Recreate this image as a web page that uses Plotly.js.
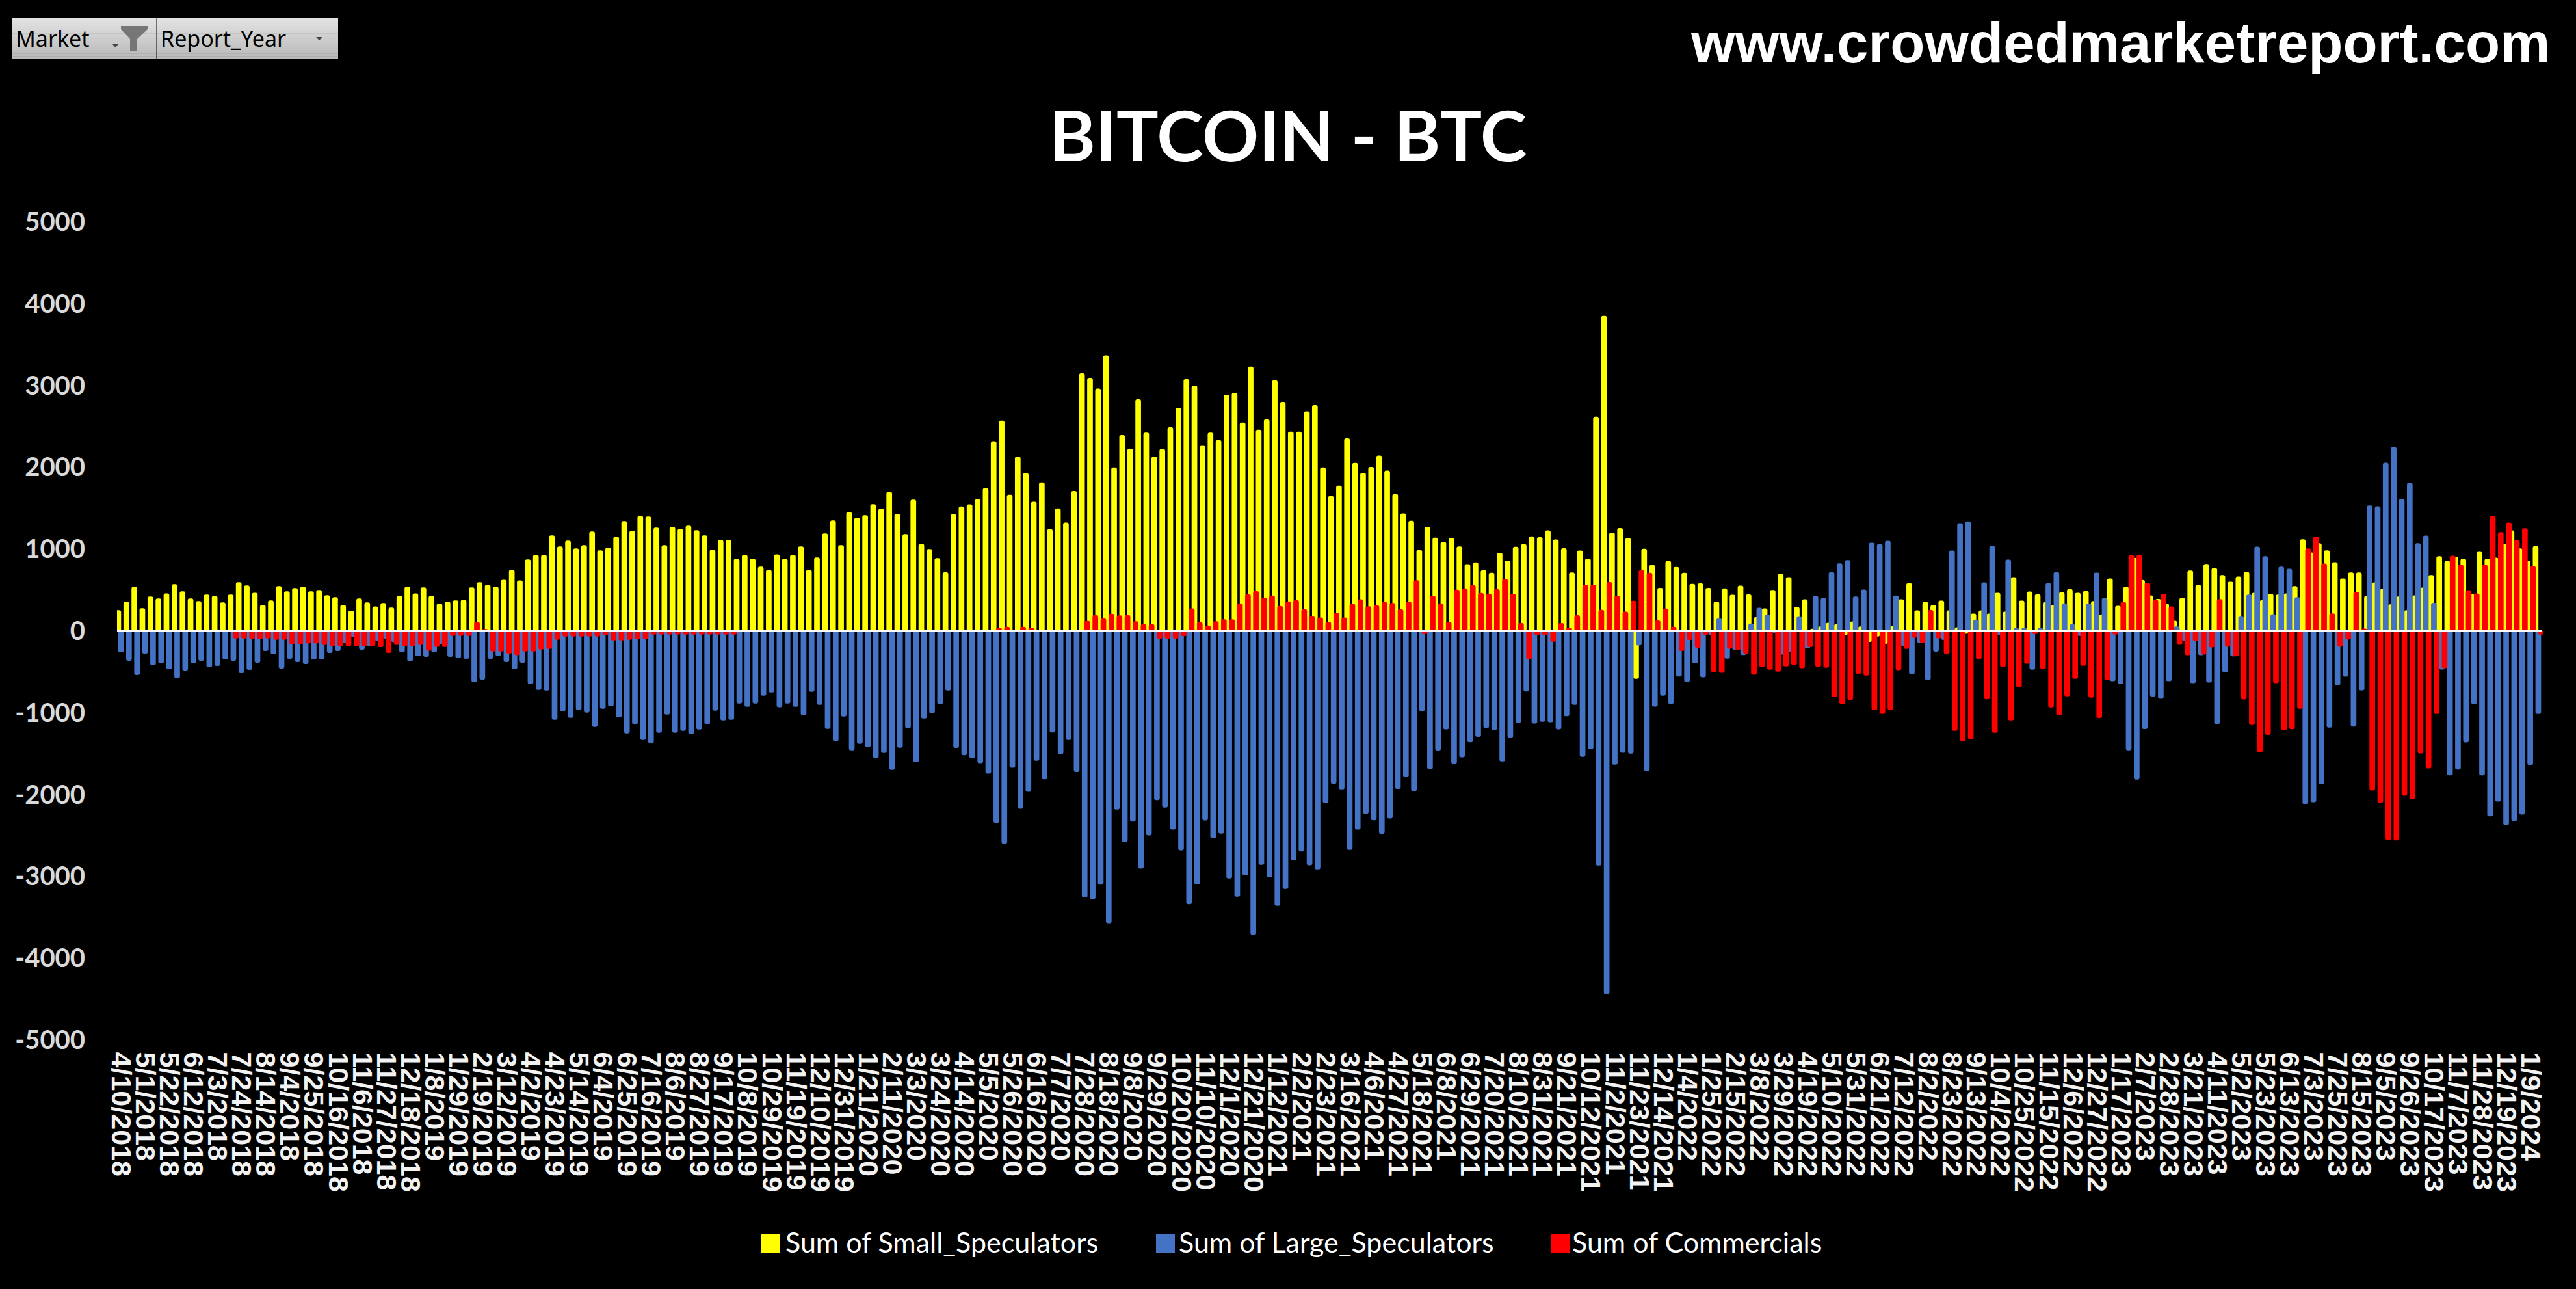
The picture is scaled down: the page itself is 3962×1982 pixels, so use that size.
<!DOCTYPE html>
<html>
<head>
<meta charset="utf-8">
<script src="https://cdn.plot.ly/plotly-3.0.1.min.js"></script>
<style>html,body{margin:0;padding:0;background:#000;}#chart{width:3962px;height:1982px;}</style>
</head>
<body>
<div id="chart"></div>
<script>
const chartTitle = 'BITCOIN - BTC';
const siteName = 'www.crowdedmarketreport.com';
const filterLabels = ['Market', 'Report_Year'];
const seriesNames = ['Sum of Small_Speculators', 'Sum of Large_Speculators', 'Sum of Commercials'];
const seriesColors = ['#FFFF00', '#4472C4', '#FF0000'];
const yTicks = [5000, 4000, 3000, 2000, 1000, 0, -1000, -2000, -3000, -4000, -5000];
const tickLabels = [
'4/10/2018','5/1/2018','5/22/2018','6/12/2018','7/3/2018','7/24/2018','8/14/2018','9/4/2018','9/25/2018','10/16/2018','11/6/2018','11/27/2018','12/18/2018',
'1/8/2019','1/29/2019','2/19/2019','3/12/2019','4/2/2019','4/23/2019','5/14/2019','6/4/2019','6/25/2019','7/16/2019','8/6/2019','8/27/2019','9/17/2019','10/8/2019','10/29/2019','11/19/2019','12/10/2019','12/31/2019',
'1/21/2020','2/11/2020','3/3/2020','3/24/2020','4/14/2020','5/5/2020','5/26/2020','6/16/2020','7/7/2020','7/28/2020','8/18/2020','9/8/2020','9/29/2020','10/20/2020','11/10/2020','12/1/2020','12/21/2020',
'1/12/2021','2/2/2021','2/23/2021','3/16/2021','4/6/2021','4/27/2021','5/18/2021','6/8/2021','6/29/2021','7/20/2021','8/10/2021','8/31/2021','9/21/2021','10/12/2021','11/2/2021','11/23/2021','12/14/2021',
'1/4/2022','1/25/2022','2/15/2022','3/8/2022','3/29/2022','4/19/2022','5/10/2022','5/31/2022','6/21/2022','7/12/2022','8/2/2022','8/23/2022','9/13/2022','10/4/2022','10/25/2022','11/15/2022','12/6/2022','12/27/2022',
'1/17/2023','2/7/2023','2/28/2023','3/21/2023','4/11/2023','5/2/2023','5/23/2023','6/13/2023','7/3/2023','7/25/2023','8/15/2023','9/5/2023','9/26/2023','10/17/2023','11/7/2023','11/28/2023','12/19/2023',
'1/9/2024'];

const smallSpeculators = [
252,355,538,276,419,395,458,570,482,395,363,443,427,347,443,594,554,466,315,371,
546,482,522,538,482,498,435,411,315,244,395,347,299,339,284,427,538,458,530,427,
331,355,371,379,530,594,562,538,625,745,617,
872,928,928,1166,1031,1102,1007,1047,1214,
983,1015,1150,1341,1222,1405,1397,1261,1047,1269,
1246,1285,1230,1166,991,1110,1110,880,928,880,
784,745,935,880,928,1031,745,896,1190,1349,
1047,1452,1381,1412,1548,1492,1699,1428,1182,1603,
1063,999,888,
715,1425,1521,1546,1607,1744,2317,
2570,1663,2129,1927,1577,1815,1242,1496,1323,1709,
3148,3093,2961,3366,1998,2393,2226,2829,2423,2129,
2221,2489,2723,3077,2996,2261,2423,2332,2885,2910,
2545,3230,2459,2586,3062,2799,2434,2434,2682,2758,
1998,1648,1775,2352,2053,1932,
2003,2143,1959,1674,
1434,1345,988,1272,1138,1088,1133,1032,815,837,
742,709,954,859,1027,1060,1155,1144,1228,1116,
1010,714,982,882,2617,3850,1200,1256,1133,-586,
1004,804,525,854,781,709,575,580,525,357,
519,441,552,446,
167,274,498,695,656,290,
386,26,53,99,82,-53,115,53,-135,-69,
-158,63,386,583,250,353,313,369,250,43,
-36,211,250,211,465,234,656,369,481,448,
353,313,471,511,465,488,363,201,639,307,
537,893,623,
433,390,334,124,401,738,561,
816,767,681,600,664,720,465,373,451,444,
458,547,1118,958,1072,983,838,639,713,713,
426,593,515,323,419,252,433,529,681,912,
855,905,880,451,965,880,894,1061,1228,1008,
855,1036];

const largeSpeculators = [
-262,-366,-541,-278,-421,-398,-469,-580,-485,-398,-366,-445,-429,-350,-366,-517,-477,-390,-246,-286,
-461,-342,-382,-405,-350,-350,-270,-246,-151,-80,-231,-186,-127,-95,-138,-262,-374,-310,-318,-262,
-167,-318,-334,-342,-628,-596,-342,-310,-382,-469,-390,
-649,-721,-729,-1087,-983,-1063,-967,-999,-1174,
-951,-922,-1055,-1253,-1142,-1333,-1373,-1246,-1023,-1246,
-1222,-1261,-1206,-1142,-975,-1094,-1087,-888,-928,-888,
-792,-753,-935,-888,-928,-1031,-745,-904,-1198,-1349,
-1047,-1460,-1381,-1420,-1556,-1492,-1699,-1428,-1190,-1603,
-1071,-1007,-896,
-730,-1430,-1521,-1556,-1617,-1744,-2347,
-2601,-1673,-2175,-1967,-1587,-1815,-1242,-1506,-1333,-1724,
-3260,-3280,-3103,-3574,-2185,-2581,-2332,-2905,-2500,-2069,
-2160,-2429,-2682,-3341,-3098,-2317,-2535,-2479,-3027,-3250,
-2986,-3716,-2859,-3012,-3361,-3154,-2804,-2697,-2865,-2915,
-2104,-1871,-1937,-2677,-2429,-2236,
-2316,-2483,-2293,-1931,
-1786,-1959,-982,-1691,-1462,-1205,-1624,-1546,-1362,-1295,
-1189,-1211,-1596,-1306,-1122,-742,-1133,-1110,-1116,-1205,
-1043,-904,-1540,-1445,-2868,-4442,-1635,-1490,-1501,-179,
-1713,-926,-792,-893,-558,-625,-396,-569,-50,151,
-340,-234,-296,89,
283,201,-30,-293,-260,178,
-214,425,402,718,824,864,419,504,1078,1061,
1101,432,-188,-531,-145,-603,-254,-112,982,1315,
1338,138,593,1038,-53,870,36,36,-475,36,
583,718,336,82,-63,330,712,402,-616,-649,
-1460,-1819,-1200,
-802,-830,-617,53,-124,-639,-298,
-632,-1139,-504,-312,181,444,1029,912,202,784,
759,412,-2119,-2094,-1874,-1182,-664,-561,-1171,-728,
1533,1522,2055,2246,1611,1810,1072,1164,341,-472,
-1767,-1696,-1363,-894,-1767,-2268,-2087,-2374,-2325,-2246,
-1640,-1015];

const commercials = [
10,10,10,10,10,10,10,10,10,10,10,10,10,10,
-93,-93,-101,-101,-93,-109,-109,-167,-167,-156,-156,-172,-188,-188,-188,-188,-188,-188,-199,-270,-172,-188,-188,-172,-244,-196,-196,-61,-61,-61,109,21,-252,-252,-278,-299,
-252,-252,-228,-220,-109,-69,-69,-69,-69,-69,-53,-117,-117,-109,-101,-101,
-45,-45,-45,-45,-45,-45,-45,-45,-45,-45,-45,
10,10,10,10,10,10,10,10,10,10,10,10,10,10,10,10,
10,10,10,10,10,10,10,10,10,10,10,10,10,10,10,10,
40,50,10,50,40,10,10,10,10,10,10,
122,193,152,208,188,193,117,81,81,-96,-96,-96,-66,
274,106,66,117,142,142,335,446,487,406,431,304,360,375,264,183,162,112,223,162,330,385,301,
312,352,340,262,
357,619,-39,430,335,112,502,519,558,463,
452,508,636,452,95,-346,-50,-56,-134,95,
39,190,564,564,257,597,430,234,368,742,
709,128,273,50,-246,-112,-206,-50,-502,-513,
-218,-234,-279,-536,
-442,-475,-498,-435,-419,-458,
-198,-442,-452,-808,-897,-844,-524,-547,-969,-1015,
-969,-481,-221,-86,-145,254,-92,-283,-1223,-1348,
-1325,-343,-837,-1246,-442,-1094,-689,-402,-40,-468,
-936,-1032,-801,-587,-428,-817,-1065,-603,-46,353,
926,933,
586,
380,451,298,-170,-298,-124,-291,
-202,387,-195,-312,-838,-1150,-1483,-1271,-639,-1214,
-1203,-951,1008,1150,823,213,-195,-106,476,28,
-1952,-2101,-2555,-2562,-2016,-2055,-1498,-1682,-1015,-458,
919,809,497,458,809,1405,1207,1324,1111,1253,
791,-46];

[smallSpeculators, largeSpeculators, commercials].forEach((a, k) => {
  if (a.length !== 302) throw new Error('series ' + k + ' has ' + a.length + ' values');
});

const W = 3962, H = 1982;
const plotL = 180, plotR = 3912, plotT = 341, plotB = 1599;
const px = v => (v - plotL) / (plotR - plotL);
const py = v => (plotB - v) / (plotB - plotT);

const weekIndex = smallSpeculators.map((_, i) => i);
const tickIndex = tickLabels.map((_, i) => i * 3);

const barW = 0.704, step = 1 / 3;
function series(name, values, color, k) {
  return {
    type: 'bar', name: name, x: weekIndex, y: values,
    width: barW, offset: -barW / 2 + (k - 1) * step,
    marker: {color: color, line: {width: 0}},
    hoverinfo: 'skip'
  };
}
const traces = [
  series(seriesNames[0], smallSpeculators, seriesColors[0], 0),
  series(seriesNames[1], largeSpeculators, seriesColors[1], 1),
  series(seriesNames[2], commercials, seriesColors[2], 2)
];

function rect(x0, y0, x1, y1, fill) {
  return {type: 'rect', xref: 'paper', yref: 'paper', x0: px(x0), x1: px(x1), y0: py(y0), y1: py(y1),
          fillcolor: fill, line: {width: 0}, layer: 'above'};
}
function poly(points, fill) {
  const d = points.map((p, i) => (i ? 'L' : 'M') + px(p[0]) + ',' + py(p[1])).join(' ') + ' Z';
  return {type: 'path', xref: 'paper', yref: 'paper', path: d, fillcolor: fill, line: {width: 0}, layer: 'above'};
}
const shapes = [];
// slicer button background (vertical grey gradient)
const strips = 16, gTop = 225, gBot = 186;
for (let i = 0; i < strips; i++) {
  const c = Math.round(gTop + (gBot - gTop) * i / (strips - 1));
  shapes.push(rect(19, 28 + 62 * i / strips, 520, 28 + 62 * (i + 1) / strips + 0.5, `rgb(${c},${c},${c})`));
}
shapes.push(rect(240.5, 28, 242, 90, '#000000'));
shapes.push(poly([[186, 40], [227, 40], [227, 45], [211, 60], [211, 78], [200, 78], [200, 60], [186, 45]], '#767676'));
shapes.push(poly([[173, 68], [182, 68], [177.5, 73]], '#444444'));
shapes.push(poly([[486, 57], [496, 57], [491, 62]], '#444444'));
// larger legend keys, same colours as the native keys they sit over
[1170, 1778, 2385].forEach((x, k) => shapes.push(rect(x, 1897, x + 29, 1927, seriesColors[k])));
// zero line above the bars
shapes.push({type: 'line', xref: 'paper', yref: 'y', x0: 0, x1: px(3910), y0: 0, y1: 0,
             line: {color: '#FFFFFF', width: 4}, layer: 'above'});

const layout = {
  width: W, height: H,
  paper_bgcolor: '#000000', plot_bgcolor: '#000000',
  margin: {l: plotL, r: W - plotR, t: plotT, b: H - plotB, pad: 0},
  barmode: 'overlay', barcornerradius: 3,
  showlegend: true,
  title: {text: chartTitle, x: 0.5, xanchor: 'center', y: 1 - 210 / H, yanchor: 'middle',
          font: {family: 'Lato', size: 108, color: '#FFFFFF', weight: 700}},
  xaxis: {
    range: [-0.486, 301.65], tickmode: 'array', tickvals: tickIndex, ticktext: tickLabels,
    tickangle: 90, ticks: 'outside', ticklen: 9, tickcolor: 'rgba(0,0,0,0)',
    tickfont: {family: 'Liberation Sans', size: 43, color: '#F2F2F2', weight: 700},
    showgrid: false, zeroline: false, showline: false, automargin: false, fixedrange: true
  },
  yaxis: {
    range: [-5000, 5000], tickmode: 'array', tickvals: yTicks, ticktext: yTicks.map(String),
    ticks: 'outside', ticklen: 40, tickcolor: 'rgba(0,0,0,0)',
    tickfont: {family: 'Lato', size: 40, color: '#D9D9D9', weight: 700},
    showgrid: false, zeroline: false, showline: false, automargin: false, fixedrange: true
  },
  legend: {
    orientation: 'h', x: px(1168), xanchor: 'left', y: py(1909), yanchor: 'middle',
    font: {family: 'Lato', size: 43, color: '#FFFFFF'},
    entrywidth: 560, entrywidthmode: 'pixels', itemwidth: 30, bgcolor: 'rgba(0,0,0,0)', borderwidth: 0,
    tracegroupgap: 0
  },
  shapes: shapes,
  annotations: [
    {text: siteName, xref: 'paper', yref: 'paper', x: px(3924), y: py(65), xanchor: 'right', yanchor: 'middle',
     showarrow: false, font: {family: 'Liberation Sans', size: 87, color: '#FFFFFF', weight: 700}},
    {text: filterLabels[0], xref: 'paper', yref: 'paper', x: px(22), y: py(59), xanchor: 'left', yanchor: 'middle',
     showarrow: false, font: {family: 'Noto Sans', size: 34, color: '#000000'}},
    {text: filterLabels[1], xref: 'paper', yref: 'paper', x: px(245), y: py(59), xanchor: 'left', yanchor: 'middle',
     showarrow: false, font: {family: 'Noto Sans', size: 34, color: '#000000'}}
  ]
};

Plotly.newPlot('chart', traces, layout, {displayModeBar: false, responsive: false});
</script>
</body>
</html>
